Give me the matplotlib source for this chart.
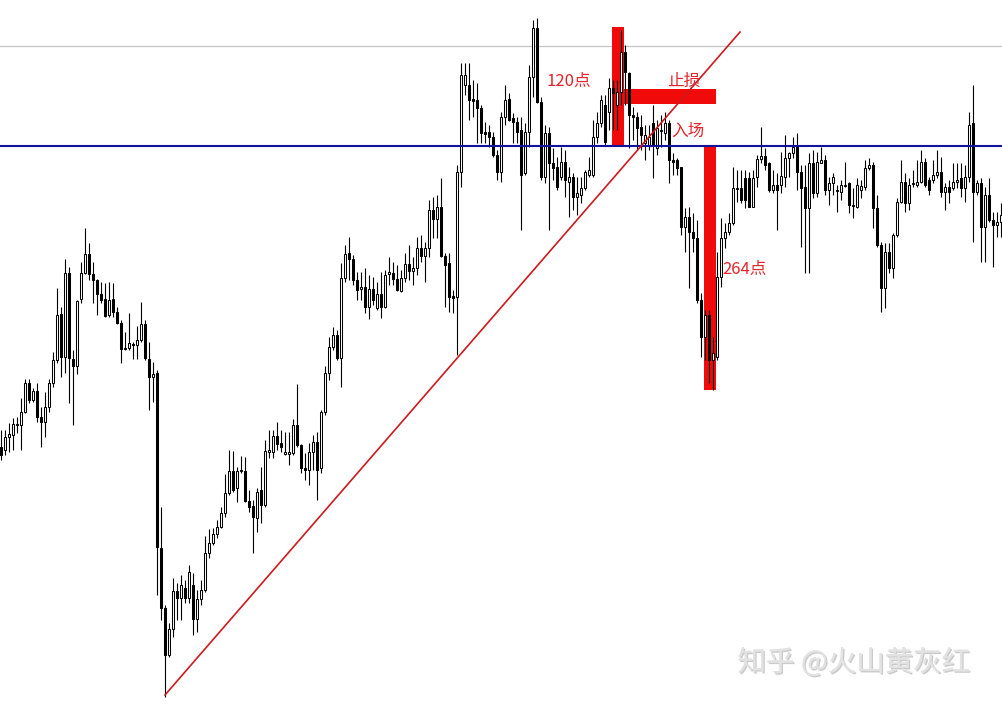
import numpy as np
import matplotlib.pyplot as plt
from matplotlib import patheffects

plt.rcParams['font.family'] = ['Noto Sans CJK SC', 'DejaVu Sans']

# candle values (scale: 1 point per pixel, counted downward from the top)
opens = [447, 450, 437, 435, 425, 425, 412, 383, 400, 391,
         417, 422, 407, 383, 360, 314, 357, 273, 359, 366,
         299, 273, 254, 274, 280, 294, 299, 315, 299, 312,
         323, 349, 348, 344, 345, 340, 324, 359, 377, 373,
         548, 608, 655, 629, 591, 598, 588, 598, 585, 619,
         599, 590, 553, 543, 534, 527, 513, 493, 471, 488,
         471, 471, 501, 506, 518, 490, 505, 452, 452, 436,
         443, 454, 454, 453, 425, 445, 468, 470, 452, 442,
         468, 412, 373, 347, 335, 358, 278, 253, 259, 280,
         289, 287, 307, 289, 308, 294, 307, 274, 273, 279,
         291, 278, 264, 271, 268, 248, 256, 248, 210, 219,
         207, 256, 263, 296, 297, 172, 85, 85, 99, 100,
         108, 132, 132, 137, 155, 172, 117, 99, 118, 122,
         130, 173, 132, 77, 28, 102, 177, 133, 163, 167,
         177, 162, 182, 177, 197, 195, 188, 175, 175, 137,
         123, 105, 112, 88, 105, 92, 52, 73, 115, 117,
         127, 143, 145, 123, 148, 131, 133, 123, 160, 160,
         167, 227, 217, 232, 238, 300, 337, 315, 360, 357,
         277, 238, 232, 223, 189, 188, 178, 178, 207, 177,
         159, 156, 163, 190, 185, 185, 177, 158, 153, 147,
         172, 187, 208, 163, 193, 163, 160, 190, 183, 190,
         192, 185, 183, 205, 207, 190, 187, 168, 165, 208,
         245, 288, 252, 268, 235, 202, 182, 203, 184, 185,
         182, 162, 180, 180, 175, 172, 192, 187, 188, 182,
         178, 188, 177, 123, 192, 183, 227, 195, 220, 225,
         222]
highs = [430, 430, 423, 418, 417, 398, 379, 379, 388, 383,
         407, 392, 379, 352, 288, 307, 259, 267, 350, 300,
         262, 228, 243, 262, 279, 282, 283, 282, 283, 307,
         320, 332, 313, 342, 326, 302, 320, 342, 362, 370,
         507, 605, 623, 578, 583, 575, 580, 565, 573, 590,
         580, 536, 529, 528, 520, 507, 474, 450, 451, 467,
         456, 457, 490, 500, 488, 467, 440, 430, 430, 422,
         430, 432, 432, 419, 384, 444, 453, 443, 435, 432,
         410, 366, 337, 327, 330, 263, 245, 237, 255, 272,
         272, 268, 275, 277, 282, 272, 270, 257, 262, 265,
         270, 253, 245, 257, 237, 235, 242, 200, 197, 195,
         178, 253, 253, 290, 165, 63, 63, 63, 80, 83,
         105, 122, 125, 132, 150, 112, 85, 93, 113, 117,
         117, 123, 65, 20, 18, 97, 125, 127, 148, 157,
         147, 150, 167, 173, 177, 177, 170, 157, 120, 112,
         95, 95, 78, 80, 80, 30, 45, 72, 107, 112,
         115, 125, 125, 105, 120, 115, 112, 120, 153, 158,
         167, 208, 207, 213, 220, 293, 310, 310, 337, 252,
         218, 223, 213, 167, 170, 170, 170, 172, 170, 155,
         127, 148, 162, 170, 173, 152, 135, 152, 137, 133,
         165, 165, 153, 150, 152, 147, 155, 177, 173, 185,
         180, 162, 182, 188, 178, 180, 160, 158, 162, 195,
         242, 243, 243, 233, 198, 160, 173, 178, 170, 160,
         150, 158, 177, 160, 150, 157, 183, 180, 163, 163,
         163, 165, 112, 85, 180, 178, 187, 178, 212, 212,
         203]
lows = [460, 455, 452, 450, 433, 450, 413, 403, 402, 422,
        447, 437, 412, 387, 363, 377, 373, 403, 425, 374,
        303, 274, 280, 303, 315, 303, 317, 317, 317, 324,
        363, 350, 350, 359, 359, 342, 360, 410, 402, 595,
        620, 697, 657, 637, 620, 620, 603, 603, 635, 632,
        605, 592, 558, 545, 538, 528, 517, 495, 492, 502,
        473, 502, 512, 553, 532, 523, 507, 458, 458, 450,
        452, 455, 465, 455, 447, 473, 480, 485, 470, 500,
        473, 415, 380, 350, 360, 387, 282, 280, 285, 300,
        300, 313, 319, 305, 310, 318, 308, 285, 285, 291,
        292, 282, 280, 285, 275, 262, 282, 257, 238, 238,
        257, 307, 312, 313, 355, 187, 95, 120, 117, 143,
        143, 143, 147, 157, 180, 182, 125, 121, 143, 143,
        230, 175, 147, 97, 103, 180, 183, 230, 180, 190,
        180, 197, 217, 210, 215, 203, 190, 177, 177, 143,
        127, 145, 130, 130, 130, 105, 105, 148, 140, 150,
        150, 160, 150, 178, 155, 147, 140, 183, 175, 175,
        235, 252, 288, 252, 303, 357, 360, 383, 390, 360,
        287, 248, 235, 225, 202, 203, 208, 207, 207, 187,
        163, 170, 192, 193, 230, 193, 187, 177, 158, 190,
        247, 273, 273, 198, 197, 163, 195, 205, 195, 212,
        200, 187, 213, 218, 208, 198, 190, 170, 228, 247,
        312, 308, 273, 278, 237, 203, 212, 210, 187, 187,
        183, 187, 195, 183, 178, 197, 210, 203, 190, 188,
        197, 202, 182, 242, 195, 262, 262, 222, 267, 237,
        237]
closes = [455, 437, 434, 424, 424, 412, 383, 400, 391, 417,
          422, 407, 383, 360, 315, 357, 273, 358, 366, 301,
          273, 254, 274, 280, 294, 300, 316, 300, 312, 323,
          349, 348, 343, 345, 340, 324, 358, 377, 374, 547,
          608, 655, 629, 591, 598, 585, 598, 572, 619, 599,
          590, 553, 543, 534, 527, 513, 493, 471, 490, 471,
          470, 501, 507, 517, 492, 505, 451, 450, 436, 444,
          447, 452, 452, 425, 445, 468, 470, 452, 442, 470,
          412, 373, 347, 335, 358, 278, 254, 259, 280, 290,
          287, 307, 289, 300, 294, 307, 275, 272, 279, 290,
          278, 264, 271, 268, 248, 256, 248, 210, 219, 207,
          256, 265, 297, 298, 172, 75, 75, 100, 101, 108,
          133, 134, 137, 155, 172, 117, 100, 120, 122, 132,
          175, 132, 77, 28, 102, 177, 133, 163, 168, 187,
          162, 180, 177, 197, 193, 188, 172, 170, 137, 123,
          100, 142, 88, 93, 92, 52, 72, 115, 117, 128,
          135, 135, 137, 145, 128, 130, 123, 160, 162, 168,
          227, 217, 232, 238, 300, 337, 315, 360, 353, 277,
          238, 232, 223, 188, 188, 200, 200, 207, 178, 159,
          156, 165, 190, 185, 190, 176, 158, 153, 147, 172,
          188, 208, 163, 193, 162, 160, 190, 183, 177, 190,
          185, 185, 205, 205, 185, 186, 168, 165, 208, 245,
          288, 252, 268, 235, 202, 182, 203, 185, 183, 182,
          162, 185, 190, 175, 172, 192, 187, 192, 182, 180,
          188, 177, 125, 192, 183, 227, 195, 220, 225, 222,
          215]

# chart annotations
top_level = 46
entry_level = 146
trend_x = [41, 184.75]
trend_y = [695, 32]
labels = ['120点', '止损', '入场', '264点']
label_x = [142, 170.75, 171.75, 180.25]
label_y = [81, 81, 131, 269]

x = np.arange(len(opens))
o = np.array(opens, dtype=float)
c = np.array(closes, dtype=float)
up = c <= o

fig = plt.figure(figsize=(10.02, 7.06), dpi=100)
ax = fig.add_axes([0, 0, 1, 1])
ax.set_xlim(-0.25, 250.25)
ax.set_ylim(706, 0)
ax.axis('off')

ax.axhline(top_level, color='#c4c4c4', lw=0.9, zorder=1)

# red risk / reward bars
ax.bar(154.25, 145 - 27, bottom=27, width=3, color='#f00a0a', zorder=2)
ax.barh(96.5, 716 / 4 - 156, left=155.75, height=15, color='#f00a0a', zorder=2)
ax.bar(177.25, 390 - 146, bottom=146, width=3, color='#f00a0a', zorder=2)

# candles
ax.vlines(x, highs, lows, color='black', lw=0.8, zorder=3)
body_h = np.maximum(np.abs(o - c), 0.8)
body_b = np.minimum(o, c)
ax.bar(x[up], body_h[up], bottom=body_b[up], width=0.68, color='white',
       edgecolor='black', linewidth=0.75, zorder=4)
ax.bar(x[~up], body_h[~up], bottom=body_b[~up], width=0.68, color='black',
       edgecolor='black', linewidth=0.75, zorder=4)

ax.axhline(entry_level, color='#12129c', lw=1.5, zorder=5)
ax.plot(trend_x, trend_y, color='#cc1a1f', lw=1.2, zorder=5)

for t, tx, ty in zip(labels, label_x, label_y):
    ha = 'left' if t == '264点' else 'center'
    ax.text(tx, ty, t, color='#e3262b', fontsize=12, ha=ha, va='center', zorder=6)

wm = ax.text((854 - 1) / 4, 663, '知乎 @火山黄灰红', fontsize=20.5,
             color='#e2e2e2', ha='center', va='center', zorder=6)
wm.set_path_effects([patheffects.withSimplePatchShadow(offset=(1, -1), shadow_rgbFace='#a0a0a0', alpha=0.55),
                     patheffects.Normal()])

fig.savefig('out.png', dpi=100)
